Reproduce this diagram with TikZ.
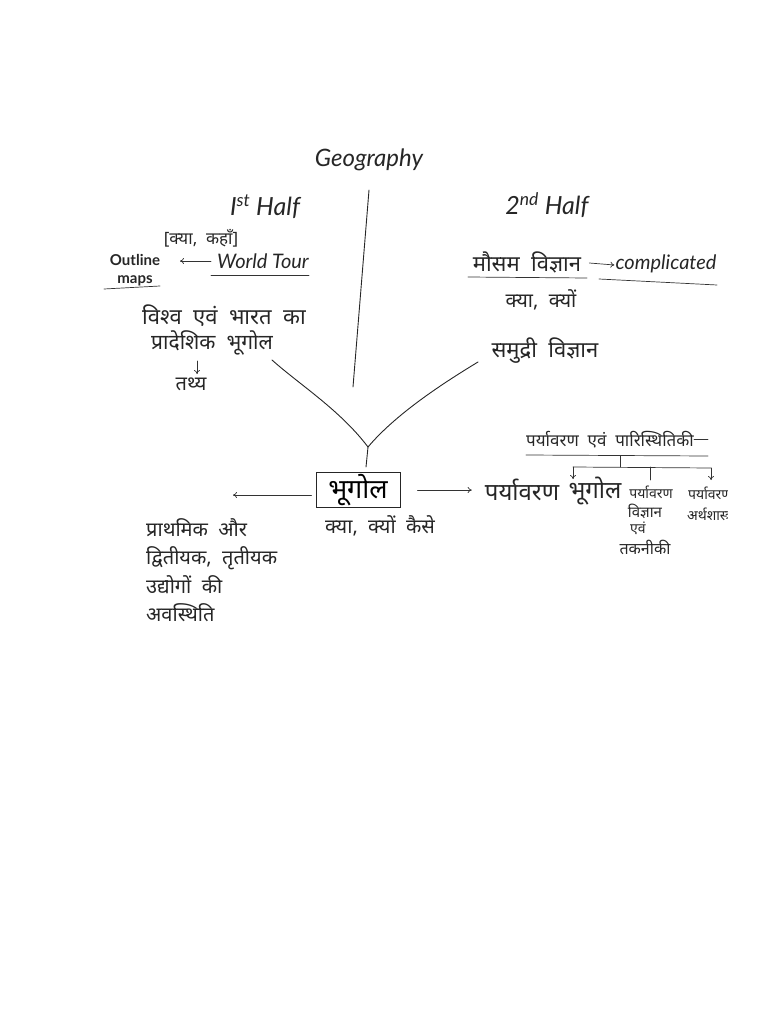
\documentclass[tikz,border=0pt]{standalone}
\usepackage{fontspec}
\usetikzlibrary{arrows.meta}
\setmainfont{Lato}
\newfontfamily\dev[Script=Devanagari,WordSpace=2]{Noto Sans}
\tikzset{
  ink/.style={draw=black!85,line width=0.9pt,line cap=round},
  thin ink/.style={draw=black!80,line width=0.7pt,line cap=round},
  arrow ink/.style={thin ink,-{To[length=4pt,width=6pt]}},
  hi/.style={inner sep=0pt,text=black!85,font=\dev\fontsize{#1}{#1}\selectfont},
  hi/.default=14,
  en/.style={inner sep=0pt,text=black!85,font=\itshape\fontsize{#1}{#1}\selectfont},
  en/.default=14
}
\begin{document}
\begin{tikzpicture}[x=1pt,y=-1pt]
\useasboundingbox (0,0) rectangle (768,1024);
% title and main branches
\node[en=24] (geo) at (369,160) {Geography};
\coordinate (trunktop) at (369,190);
\coordinate (trunkend) at (353,387);
\coordinate (leftend) at (272,360);
\coordinate (rightend) at (478,362);
\coordinate (fork) at (368,447);
\coordinate (stemend) at (366,467);
\draw[ink] (trunktop) -- (trunkend);
\draw[ink] (leftend) .. controls (300,385) and (340,410) .. (fork);
\draw[ink] (rightend) .. controls (440,385) and (395,415) .. (fork);
\draw[ink] (fork) -- (stemend);
% left column
\node[en=25] (half1) at (265,207) {I\textsuperscript{st} Half};
\node[hi=17] (kya1) at (201,238) {[क्या, कहाँ]};
\node[en=20] (world) at (263,261) {World Tour};
\node[inner sep=0pt,align=center,text=black!85,font=\bfseries\fontsize{15}{18}\selectfont] (outline) at (135,270) {Outline\\maps};
\coordinate (wtip) at (180,261);
\draw[arrow ink] ([xshift=-6pt]world.west) -- (wtip);
\coordinate (wa) at (211,275); \coordinate (wb) at (309,275);
\coordinate (oa) at (104,289); \coordinate (ob) at (160,286);
\draw[thin ink] (wa) -- (wb);
\draw[thin ink] (oa) -- (ob);
\node[hi=22] (vishva) at (224,316) {विश्व एवं भारत का};
\node[hi=21] (pradesh) at (212,343) {प्रादेशिक भूगोल};
\node[hi=20] (tathya) at (191,384) {तथ्य};
\coordinate (atop) at (197,361); \coordinate (abot) at (197,374);
\draw[arrow ink] (atop) -- (abot);
% right column
\node[en=25] (half2) at (547,205) {2\textsuperscript{nd} Half};
\node[hi=22] (mausam) at (527,262) {मौसम विज्ञान};
\node[en=20] (compl) at (666,264) {complicated};
\draw[arrow ink] ([xshift=8pt,yshift=-1pt]mausam.east) -- ([xshift=-1pt,yshift=-1pt]compl.west);
\coordinate (ma) at (468,277); \coordinate (mb) at (587,278);
\coordinate (ca) at (599,279); \coordinate (cb) at (717,285);
\draw[thin ink] (ma) -- (mb);
\draw[thin ink] (ca) -- (cb);
\node[hi=20] (kya2) at (541,300) {क्या, क्यों};
\node[hi=22] (samudra) at (545,351) {समुद्री विज्ञान};
% central box
\node[draw=black!85,line width=1pt,minimum width=84pt,minimum height=35pt,inner sep=0pt,
  font=\dev\fontsize{27}{27}\selectfont] (bhugol) at (358,490) {भूगोल};
\node[hi=20] (kya3) at (380,526) {क्या, क्यों कैसे};
\coordinate (lefttip) at (233,495);
\draw[arrow ink] ([xshift=-4pt,yshift=-5pt]bhugol.west) -- (lefttip);
\node[inner sep=0pt,align=left,text=black!85,anchor=north west,font=\dev\fontsize{20}{28.5}\selectfont] (udyog) at (146,518)
  {प्राथमिक और\\द्वितीयक, तृतीयक\\उद्योगों की\\अवस्थिति};
% right branch
\node[hi=24] (paryavaran) at (522,490) {पर्यावरण};
\draw[arrow ink] ([xshift=17pt]bhugol.east) -- ([xshift=-13pt]paryavaran.west);
\node[hi=24] (bh2) at (595,491) {भूगोल};
\node[hi=14] (pv) at (651,492) {पर्यावरण};
\node[hi=15] (vig) at (645,511) {विज्ञान};
\node[hi=14] (evam) at (638,528) {एवं};
\node[hi=16] (tak) at (645,547) {तकनीकी};
\begin{scope}
\clip (670,480) rectangle (727,525);
\node[hi=14,anchor=west] (pv2) at (688,493) {पर्यावरण};
\node[hi=14,anchor=west] (arth) at (687,514) {अर्थशास्त्र};
\end{scope}
\node[hi=17] (paris) at (610,440) {पर्यावरण एवं पारिस्थितिकी};
\coordinate (ua) at (526,455); \coordinate (ub) at (708,456);
\coordinate (um) at (620,455.5);
\coordinate (hm) at (620,467);
\coordinate (ha) at (573,467); \coordinate (hb) at (650,467); \coordinate (hc) at (711,468);
\coordinate (da) at (573,479); \coordinate (db) at (650,480); \coordinate (dc) at (711,480);
\draw[thin ink] (ua) -- (ub);
\draw[thin ink] (um) -- (hm);
\draw[thin ink] (ha) -- (hc);
\draw[arrow ink] (ha) -- (da);
\draw[thin ink] (hb) -- (db);
\draw[arrow ink] (hc) -- (dc);
\coordinate (pb) at (708,439);
\draw[thin ink] (paris.east |- pb) -- (pb);
\end{tikzpicture}
\end{document}
